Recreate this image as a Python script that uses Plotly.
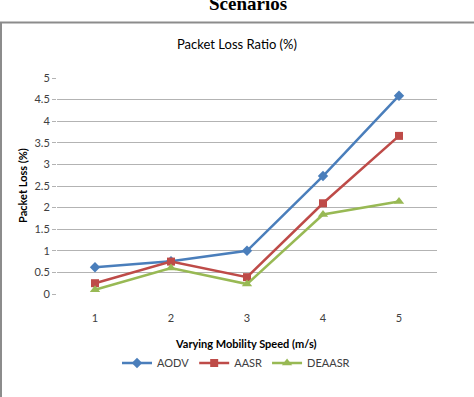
import plotly.graph_objects as go

speeds = [1, 2, 3, 4, 5]
aodv = [0.62, 0.76, 1.00, 2.73, 4.59]
aasr = [0.25, 0.75, 0.39, 2.10, 3.66]
deaasr = [0.10, 0.60, 0.23, 1.84, 2.14]

FONT = "Lato, 'Liberation Sans Narrow', sans-serif"
W, H = 474, 397
L, R, T, B = 57, 37, 78, 103
PW, PH = W - L - R, H - T - B

def px_x(p):
    return (p - L) / PW

def px_y(p):
    return (H - B - p) / PH

fig = go.Figure()
series = [
    ("AODV", aodv, "#4A7EBB", "diamond", 8),
    ("AASR", aasr, "#BE4B48", "square", 8),
    ("DEAASR", deaasr, "#98B954", "triangle-up", 9),
]
for name, vals, col, sym, sz in series:
    fig.add_trace(go.Scatter(
        x=speeds, y=vals, name=name, mode="lines+markers",
        line=dict(color=col, width=2.5),
        marker=dict(symbol=sym, size=sz, color=col),
    ))

fig.update_layout(
    width=W, height=H,
    margin=dict(l=L, r=R, t=T, b=B, pad=0),
    paper_bgcolor="white", plot_bgcolor="white",
    font=dict(family=FONT, size=11, color="#404040"),
    showlegend=True,
    legend=dict(orientation="h", xanchor="center", x=px_x(236), yanchor="middle",
                y=px_y(363), font=dict(size=11, color="#404040"),
                itemwidth=30, tracegroupgap=0, bgcolor="rgba(0,0,0,0)"),
    title=dict(text="Packet Loss Ratio (%)", xref="paper", x=px_x(237), xanchor="center",
               yref="container", y=1 - 44 / H, yanchor="middle",
               font=dict(family=FONT, size=13, color="#000000")),
)
fig.update_xaxes(
    range=[0.5, 5.5], tickvals=speeds, ticktext=[str(s) for s in speeds],
    showgrid=False, zeroline=False, showline=False,
    ticks="outside", ticklen=14, tickcolor="rgba(0,0,0,0)",
    tickfont=dict(size=11, color="#404040"),
)
fig.update_yaxes(
    range=[0, 5], dtick=0.5, showgrid=True, gridcolor="#B3B3B3", gridwidth=1,
    zeroline=False, showline=False,
    ticks="outside", ticklen=4, tickcolor="#B3B3B3",
    tickfont=dict(size=11, color="#404040"),
)

fig.add_annotation(text="<b>Packet Loss (%)</b>", xref="paper", yref="paper",
                   x=px_x(22), y=0.5, xanchor="center", yanchor="middle",
                   textangle=-90, showarrow=False,
                   font=dict(family=FONT, size=11, color="#000000"))
fig.add_annotation(text="<b>Varying Mobility Speed (m/s)</b>", xref="paper", yref="paper",
                   x=px_x(246), y=px_y(343), xanchor="center", yanchor="middle",
                   showarrow=False,
                   font=dict(family=FONT, size=11, color="#000000"))
fig.add_annotation(text="<b>Scenarios</b>", xref="paper", yref="paper",
                   x=px_x(248), y=px_y(16), xanchor="center", yanchor="bottom",
                   showarrow=False,
                   font=dict(family="'Liberation Serif', 'DejaVu Serif', serif", size=19, color="#000000"))

fig.add_shape(type="rect", xref="paper", yref="paper",
              x0=px_x(1), x1=px_x(W + 20), y0=px_y(H + 20), y1=px_y(22.5),
              line=dict(color="#8C8C8C", width=2), layer="below")

fig.write_html("out.html", config={"displayModeBar": False},
               post_script="document.body.style.margin='0';document.body.style.overflow='hidden';")
